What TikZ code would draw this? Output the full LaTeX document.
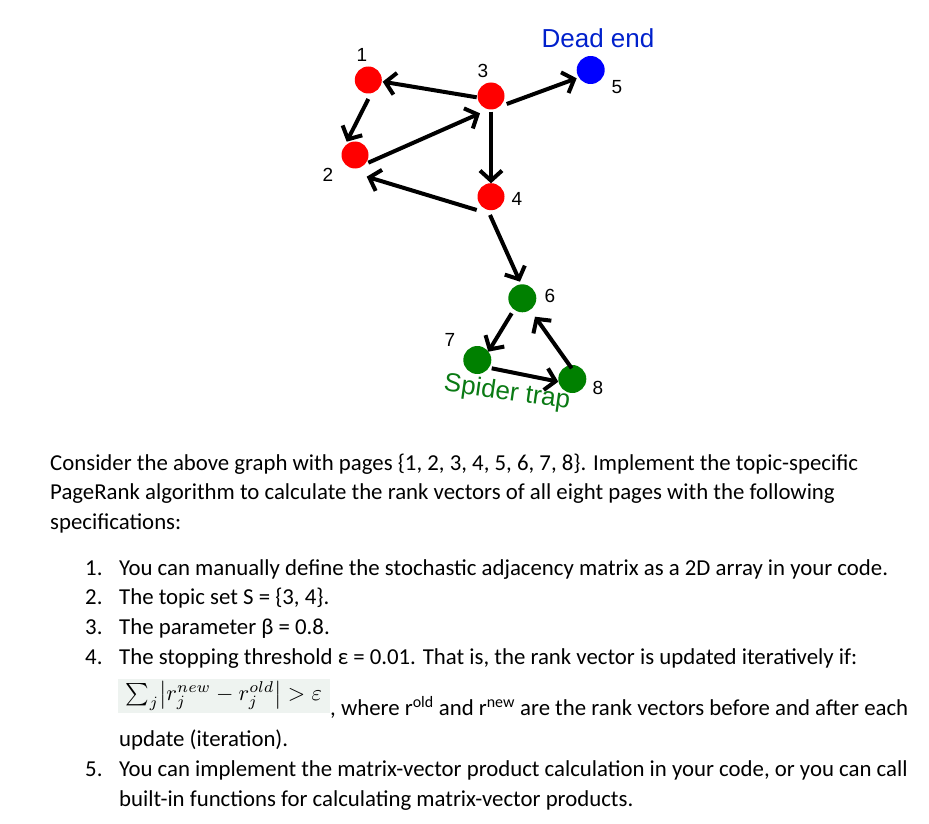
\documentclass[tikz,border=0pt]{standalone}
\usepackage{fontspec}
\usepackage{graphicx}
\setmainfont{Carlito}
\newfontfamily\arialf{Liberation Sans}
\usetikzlibrary{arrows.meta,calc}
\definecolor{nred}{RGB}{255,0,0}
\definecolor{nblue}{RGB}{0,0,255}
\definecolor{ngreen}{RGB}{0,128,0}
\definecolor{tblue}{RGB}{0,32,204}
\definecolor{tgreen}{RGB}{10,122,20}
\definecolor{fbg}{RGB}{238,243,240}
\begin{document}
\begin{tikzpicture}[x=1pt,y=-1pt,
  vtx/.style={circle,inner sep=0pt,minimum size=27pt},
  gvtx/.style={circle,inner sep=0pt,minimum size=28pt,fill=ngreen},
  lbl/.style={font=\arialf\fontsize{19}{22}\selectfont,inner sep=0pt},
  edge/.style={line width=4pt,-{Straight Barb[length=10pt,width=22pt]}},
  txt/.style={anchor=base west,inner sep=0pt,font=\fontsize{22.8}{27}\selectfont}
]
\useasboundingbox (0,0) rectangle (929,824);
% vertices
\node[vtx,fill=nred] (n1) at (368.3,80) {};
\node[vtx,fill=nred] (n2) at (355,155) {};
\node[vtx,fill=nred] (n3) at (491,96) {};
\node[vtx,fill=nred] (n4) at (491,196.7) {};
\node[vtx,fill=nblue,minimum size=28pt] (n5) at (590.7,70) {};
\node[gvtx] (n6) at (522.3,298.3) {};
\node[gvtx] (n7) at (477.3,360) {};
\node[gvtx] (n8) at (572.3,379) {};
% labels
\node[lbl] (l1) at (362,55) {1};
\node[lbl] (l2) at (328,175) {2};
\node[lbl] (l3) at (483,71) {3};
\node[lbl] (l4) at (517,199) {4};
\node[lbl] (l5) at (617,87) {5};
\node[lbl] (l6) at (550,296) {6};
\node[lbl] (l7) at (450,340) {7};
\node[lbl] (l8) at (598,388) {8};
\node[font=\arialf\fontsize{26}{30}\selectfont,text=tblue,inner sep=0pt] (dead) at (598,38) {Dead end};
\node[font=\arialf\fontsize{26}{30}\selectfont,text=tgreen,inner sep=0pt,rotate=-8] (spider) at (507,393) {Spider trap};
% edges
\draw[edge] ($(n3)+(-14.3,1.3)$) -- ($(n1)+(14.4,1.7)$);
\draw[edge] ($(n1)+(0,19)$) -- ($(n2)+(-8.3,-13.3)$);
\draw[edge] ($(n2)+(13.3,7.7)$) -- ($(n3)+(-11,17.3)$);
\draw[edge] ($(n3)+(15.7,8)$) -- ($(n5)+(-14,8.3)$);
\draw[edge] ($(n3)+(0,15.7)$) -- ($(n4)+(0,-13.4)$);
\draw[edge] ($(n4)+(-14.3,13.3)$) -- ($(n2)+(11.7,21.7)$);
\draw[edge] ($(n4)+(-1,18.3)$) -- ($(n6)+(-2.3,-16.6)$);
\draw[edge] ($(n6)+(-10.6,15)$) -- ($(n7)+(11,-8.3)$);
\draw[edge] ($(n7)+(14.4,8.3)$) -- ($(n8)+(-14,2.7)$);
\draw[edge] ($(n8)+(-0.6,-10.7)$) -- ($(n6)+(12.7,18.4)$);
% text
\node[txt] (p1) at (50,470) {Consider the above graph with pages \{1, 2, 3, 4, 5, 6, 7, 8\}. Implement the topic-specific};
\node[txt] (p2) at (50,499.5) {PageRank algorithm to calculate the rank vectors of all eight pages with the following};
\node[txt] (p3) at (50,529) {specifications:};
\node[txt] (k1) at (85,575) {1.};
\node[txt] (i1) at (119,575) {You can manually define the stochastic adjacency matrix as a 2D array in your code.};
\node[txt] (k2) at (85,604.5) {2.};
\node[txt] (i2) at (119,604.5) {The topic set S = \{3, 4\}.};
\node[txt] (k3) at (85,634) {3.};
\node[txt] (i3) at (119,634) {The parameter β = 0.8.};
\node[txt] (k4) at (85,664) {4.};
\node[txt] (i4) at (119,664) {The stopping threshold ε = 0.01. That is, the rank vector is updated iteratively if:};
\node[fill=fbg,inner sep=0pt,minimum width=212pt,minimum height=34pt] (form) at (224,696)
  {\resizebox{196pt}{!}{$\sum_j \bigl|r_j^{new}-r_j^{old}\bigr|>\varepsilon$}};
\node[txt] (i4b) at (330,715) {, where r\textsuperscript{old} and r\textsuperscript{new} are the rank vectors before and after each};
\node[txt] (i4c) at (119,746) {update (iteration).};
\node[txt] (k5) at (85,776) {5.};
\node[txt] (i5) at (119,776) {You can implement the matrix-vector product calculation in your code, or you can call};
\node[txt] (i5b) at (119,806) {built-in functions for calculating matrix-vector products.};
\end{tikzpicture}
\end{document}
